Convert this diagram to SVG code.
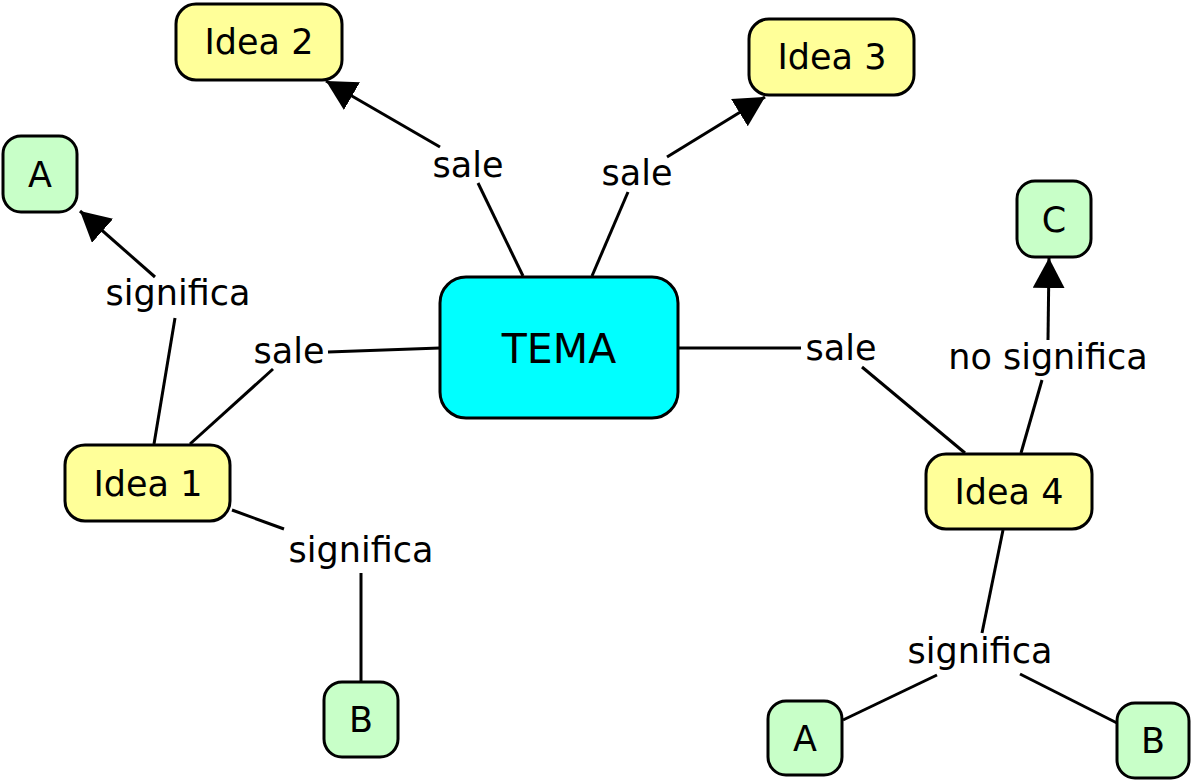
<svg xmlns="http://www.w3.org/2000/svg" width="1195" height="783" viewBox="0 0 1195 783">
<style>
.n rect{stroke:#000;stroke-width:3}
.idea rect{fill:#FFFF99}
.leaf rect{fill:#C8FFC8}
.tema rect{fill:#00FFFF}
text{font-family:"DejaVu Sans","Noto Sans",sans-serif;font-size:35px;fill:#000;text-anchor:middle}
.tema text{font-size:41px}
#connectors line{stroke:#000;stroke-width:3;fill:none}
#connectors text{font-size:35px}
</style>
<defs>
<marker id="arr" markerUnits="userSpaceOnUse" markerWidth="32" markerHeight="32" refX="30" refY="16" orient="auto" viewBox="0 0 32 32">
<path d="M0,0 L30,16 L0,32 z" fill="#000"/>
</marker>
</defs>
<rect width="1195" height="783" fill="#fff"/>
<g id="connectors">
<!-- TEMA -> Idea 2 -->
<line x1="523" y1="276" x2="478" y2="183"/>
<line x1="440" y1="147" x2="326" y2="81" marker-end="url(#arr)"/>
<text x="468" y="177">sale</text>
<!-- TEMA -> Idea 3 -->
<line x1="592" y1="276" x2="628" y2="192"/>
<line x1="667" y1="157" x2="765" y2="97" marker-end="url(#arr)"/>
<text x="637" y="185">sale</text>
<!-- TEMA - Idea 1 -->
<line x1="440" y1="348" x2="328" y2="352"/>
<line x1="273" y1="369" x2="190" y2="444"/>
<text x="289" y="363">sale</text>
<!-- Idea 1 -> A -->
<line x1="154" y1="444" x2="175" y2="318"/>
<line x1="155" y1="277" x2="80" y2="211" marker-end="url(#arr)"/>
<text x="178" y="305">significa</text>
<!-- Idea 1 - B -->
<line x1="232" y1="510" x2="284" y2="529"/>
<line x1="361" y1="573" x2="361" y2="682"/>
<text x="361" y="562">significa</text>
<!-- TEMA - Idea 4 -->
<line x1="678" y1="348" x2="801" y2="348"/>
<line x1="862" y1="367" x2="965" y2="453"/>
<text x="841" y="360">sale</text>
<!-- Idea 4 -> C -->
<line x1="1021" y1="453" x2="1042" y2="380"/>
<line x1="1048" y1="340" x2="1049" y2="258" marker-end="url(#arr)"/>
<text x="1048" y="369">no significa</text>
<!-- Idea 4 - A, B -->
<line x1="1003" y1="530" x2="982" y2="633"/>
<line x1="937" y1="675" x2="843" y2="720"/>
<line x1="1020" y1="674" x2="1117" y2="723"/>
<text x="980" y="663">significa</text>
</g>
<g id="tema" class="n tema"><rect x="440" y="277" width="238" height="141" rx="26"/><text x="559" y="363">TEMA</text></g>
<g id="idea1" class="n idea"><rect x="65" y="445" width="165" height="76" rx="20"/><text x="148" y="496">Idea 1</text></g>
<g id="idea2" class="n idea"><rect x="176" y="4" width="166" height="76" rx="20"/><text x="259" y="54">Idea 2</text></g>
<g id="idea3" class="n idea"><rect x="749" y="19" width="165" height="76" rx="20"/><text x="832" y="69">Idea 3</text></g>
<g id="idea4" class="n idea"><rect x="926" y="454" width="166" height="75" rx="20"/><text x="1009" y="504">Idea 4</text></g>
<g id="a1" class="n leaf"><rect x="3" y="136" width="74" height="76" rx="18"/><text x="40" y="187">A</text></g>
<g id="b1" class="n leaf"><rect x="324" y="682" width="74" height="75" rx="18"/><text x="361" y="732">B</text></g>
<g id="c" class="n leaf"><rect x="1017" y="181" width="74" height="76" rx="18"/><text x="1054" y="232">C</text></g>
<g id="a2" class="n leaf"><rect x="768" y="701" width="74" height="74" rx="18"/><text x="805" y="751">A</text></g>
<g id="b2" class="n leaf"><rect x="1117" y="703" width="72" height="75" rx="18"/><text x="1153" y="753">B</text></g>
</svg>
